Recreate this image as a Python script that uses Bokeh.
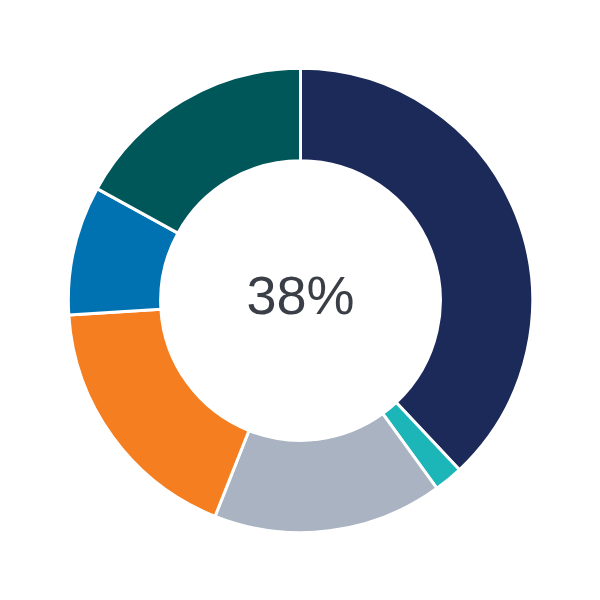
from math import pi

from bokeh.core.properties import value
from bokeh.embed import file_html
from bokeh.models import ColumnDataSource
from bokeh.plotting import figure
from bokeh.resources import INLINE

# slices clockwise from 12 o'clock
labels = ["A", "B", "C", "D", "E", "F"]
shares = [38, 2, 16, 18, 9, 17]
colors = ["#1c2a5a", "#1cb5b8", "#a9b3c1", "#f47e20", "#0072b1", "#00575a"]
center_label = "38%"

total = sum(shares)
starts, ends = [], []
acc = 0
for s in shares:
    starts.append(pi / 2 - acc / total * 2 * pi)
    acc += s
    ends.append(pi / 2 - acc / total * 2 * pi)

source = ColumnDataSource(data=dict(label=labels, share=shares, color=colors,
                                    start=starts, end=ends))

p = figure(width=592, height=592, x_range=(-1, 1), y_range=(-1, 1),
           output_backend="svg", toolbar_location=None, min_border=0,
           min_border_left=8, min_border_top=8)

p.annular_wedge(x=0, y=0, inner_radius=0.479, outer_radius=0.795,
                start_angle="start", end_angle="end", direction="clock",
                fill_color="color", line_color="white", line_width=3,
                source=source)

p.text(x=[0], y=[0.02], text=[center_label], text_align="center",
       text_baseline="middle", text_font=value("Liberation Sans"),
       text_font_size="54px", text_color="#3a3f47")

p.axis.visible = False
p.grid.grid_line_color = None
p.outline_line_color = None

open("out.html", "w").write(file_html(p, INLINE))
